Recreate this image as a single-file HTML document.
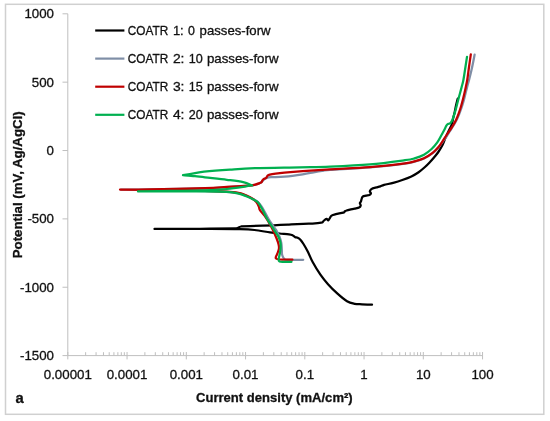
<!DOCTYPE html>
<html><head><meta charset="utf-8"><style>
html,body{margin:0;padding:0;background:#fff;}
svg{display:block;}
</style></head><body>
<svg width="550" height="421" viewBox="0 0 550 421">
<rect x="0" y="0" width="550" height="421" fill="#fff"/>
<rect x="5.5" y="4.3" width="538.3" height="410" fill="none" stroke="#d0d0d0" stroke-width="1.5"/>
<line x1="67.8" y1="13.8" x2="67.8" y2="355.6" stroke="#bfbfbf" stroke-width="1"/>
<line x1="67.8" y1="355.6" x2="482.55" y2="355.6" stroke="#bfbfbf" stroke-width="1"/>
<line x1="62.5" y1="13.80" x2="67.8" y2="13.80" stroke="#bfbfbf" stroke-width="1"/>
<line x1="62.5" y1="82.16" x2="67.8" y2="82.16" stroke="#bfbfbf" stroke-width="1"/>
<line x1="62.5" y1="150.52" x2="67.8" y2="150.52" stroke="#bfbfbf" stroke-width="1"/>
<line x1="62.5" y1="218.88" x2="67.8" y2="218.88" stroke="#bfbfbf" stroke-width="1"/>
<line x1="62.5" y1="287.24" x2="67.8" y2="287.24" stroke="#bfbfbf" stroke-width="1"/>
<line x1="62.5" y1="355.60" x2="67.8" y2="355.60" stroke="#bfbfbf" stroke-width="1"/>
<line x1="67.80" y1="352.00" x2="67.80" y2="359.40" stroke="#bfbfbf" stroke-width="1"/>
<line x1="85.64" y1="352.20" x2="85.64" y2="355.60" stroke="#bfbfbf" stroke-width="1"/>
<line x1="96.07" y1="352.20" x2="96.07" y2="355.60" stroke="#bfbfbf" stroke-width="1"/>
<line x1="103.47" y1="352.20" x2="103.47" y2="355.60" stroke="#bfbfbf" stroke-width="1"/>
<line x1="109.21" y1="352.20" x2="109.21" y2="355.60" stroke="#bfbfbf" stroke-width="1"/>
<line x1="113.91" y1="352.20" x2="113.91" y2="355.60" stroke="#bfbfbf" stroke-width="1"/>
<line x1="117.87" y1="352.20" x2="117.87" y2="355.60" stroke="#bfbfbf" stroke-width="1"/>
<line x1="121.31" y1="352.20" x2="121.31" y2="355.60" stroke="#bfbfbf" stroke-width="1"/>
<line x1="124.34" y1="352.20" x2="124.34" y2="355.60" stroke="#bfbfbf" stroke-width="1"/>
<line x1="127.05" y1="352.00" x2="127.05" y2="359.40" stroke="#bfbfbf" stroke-width="1"/>
<line x1="144.89" y1="352.20" x2="144.89" y2="355.60" stroke="#bfbfbf" stroke-width="1"/>
<line x1="155.32" y1="352.20" x2="155.32" y2="355.60" stroke="#bfbfbf" stroke-width="1"/>
<line x1="162.72" y1="352.20" x2="162.72" y2="355.60" stroke="#bfbfbf" stroke-width="1"/>
<line x1="168.46" y1="352.20" x2="168.46" y2="355.60" stroke="#bfbfbf" stroke-width="1"/>
<line x1="173.16" y1="352.20" x2="173.16" y2="355.60" stroke="#bfbfbf" stroke-width="1"/>
<line x1="177.12" y1="352.20" x2="177.12" y2="355.60" stroke="#bfbfbf" stroke-width="1"/>
<line x1="180.56" y1="352.20" x2="180.56" y2="355.60" stroke="#bfbfbf" stroke-width="1"/>
<line x1="183.59" y1="352.20" x2="183.59" y2="355.60" stroke="#bfbfbf" stroke-width="1"/>
<line x1="186.30" y1="352.00" x2="186.30" y2="359.40" stroke="#bfbfbf" stroke-width="1"/>
<line x1="204.14" y1="352.20" x2="204.14" y2="355.60" stroke="#bfbfbf" stroke-width="1"/>
<line x1="214.57" y1="352.20" x2="214.57" y2="355.60" stroke="#bfbfbf" stroke-width="1"/>
<line x1="221.97" y1="352.20" x2="221.97" y2="355.60" stroke="#bfbfbf" stroke-width="1"/>
<line x1="227.71" y1="352.20" x2="227.71" y2="355.60" stroke="#bfbfbf" stroke-width="1"/>
<line x1="232.41" y1="352.20" x2="232.41" y2="355.60" stroke="#bfbfbf" stroke-width="1"/>
<line x1="236.37" y1="352.20" x2="236.37" y2="355.60" stroke="#bfbfbf" stroke-width="1"/>
<line x1="239.81" y1="352.20" x2="239.81" y2="355.60" stroke="#bfbfbf" stroke-width="1"/>
<line x1="242.84" y1="352.20" x2="242.84" y2="355.60" stroke="#bfbfbf" stroke-width="1"/>
<line x1="245.55" y1="352.00" x2="245.55" y2="359.40" stroke="#bfbfbf" stroke-width="1"/>
<line x1="263.39" y1="352.20" x2="263.39" y2="355.60" stroke="#bfbfbf" stroke-width="1"/>
<line x1="273.82" y1="352.20" x2="273.82" y2="355.60" stroke="#bfbfbf" stroke-width="1"/>
<line x1="281.22" y1="352.20" x2="281.22" y2="355.60" stroke="#bfbfbf" stroke-width="1"/>
<line x1="286.96" y1="352.20" x2="286.96" y2="355.60" stroke="#bfbfbf" stroke-width="1"/>
<line x1="291.66" y1="352.20" x2="291.66" y2="355.60" stroke="#bfbfbf" stroke-width="1"/>
<line x1="295.62" y1="352.20" x2="295.62" y2="355.60" stroke="#bfbfbf" stroke-width="1"/>
<line x1="299.06" y1="352.20" x2="299.06" y2="355.60" stroke="#bfbfbf" stroke-width="1"/>
<line x1="302.09" y1="352.20" x2="302.09" y2="355.60" stroke="#bfbfbf" stroke-width="1"/>
<line x1="304.80" y1="352.00" x2="304.80" y2="359.40" stroke="#bfbfbf" stroke-width="1"/>
<line x1="322.64" y1="352.20" x2="322.64" y2="355.60" stroke="#bfbfbf" stroke-width="1"/>
<line x1="333.07" y1="352.20" x2="333.07" y2="355.60" stroke="#bfbfbf" stroke-width="1"/>
<line x1="340.47" y1="352.20" x2="340.47" y2="355.60" stroke="#bfbfbf" stroke-width="1"/>
<line x1="346.21" y1="352.20" x2="346.21" y2="355.60" stroke="#bfbfbf" stroke-width="1"/>
<line x1="350.91" y1="352.20" x2="350.91" y2="355.60" stroke="#bfbfbf" stroke-width="1"/>
<line x1="354.87" y1="352.20" x2="354.87" y2="355.60" stroke="#bfbfbf" stroke-width="1"/>
<line x1="358.31" y1="352.20" x2="358.31" y2="355.60" stroke="#bfbfbf" stroke-width="1"/>
<line x1="361.34" y1="352.20" x2="361.34" y2="355.60" stroke="#bfbfbf" stroke-width="1"/>
<line x1="364.05" y1="352.00" x2="364.05" y2="359.40" stroke="#bfbfbf" stroke-width="1"/>
<line x1="381.89" y1="352.20" x2="381.89" y2="355.60" stroke="#bfbfbf" stroke-width="1"/>
<line x1="392.32" y1="352.20" x2="392.32" y2="355.60" stroke="#bfbfbf" stroke-width="1"/>
<line x1="399.72" y1="352.20" x2="399.72" y2="355.60" stroke="#bfbfbf" stroke-width="1"/>
<line x1="405.46" y1="352.20" x2="405.46" y2="355.60" stroke="#bfbfbf" stroke-width="1"/>
<line x1="410.16" y1="352.20" x2="410.16" y2="355.60" stroke="#bfbfbf" stroke-width="1"/>
<line x1="414.12" y1="352.20" x2="414.12" y2="355.60" stroke="#bfbfbf" stroke-width="1"/>
<line x1="417.56" y1="352.20" x2="417.56" y2="355.60" stroke="#bfbfbf" stroke-width="1"/>
<line x1="420.59" y1="352.20" x2="420.59" y2="355.60" stroke="#bfbfbf" stroke-width="1"/>
<line x1="423.30" y1="352.00" x2="423.30" y2="359.40" stroke="#bfbfbf" stroke-width="1"/>
<line x1="441.14" y1="352.20" x2="441.14" y2="355.60" stroke="#bfbfbf" stroke-width="1"/>
<line x1="451.57" y1="352.20" x2="451.57" y2="355.60" stroke="#bfbfbf" stroke-width="1"/>
<line x1="458.97" y1="352.20" x2="458.97" y2="355.60" stroke="#bfbfbf" stroke-width="1"/>
<line x1="464.71" y1="352.20" x2="464.71" y2="355.60" stroke="#bfbfbf" stroke-width="1"/>
<line x1="469.41" y1="352.20" x2="469.41" y2="355.60" stroke="#bfbfbf" stroke-width="1"/>
<line x1="473.37" y1="352.20" x2="473.37" y2="355.60" stroke="#bfbfbf" stroke-width="1"/>
<line x1="476.81" y1="352.20" x2="476.81" y2="355.60" stroke="#bfbfbf" stroke-width="1"/>
<line x1="479.84" y1="352.20" x2="479.84" y2="355.60" stroke="#bfbfbf" stroke-width="1"/>
<line x1="482.55" y1="352.00" x2="482.55" y2="359.40" stroke="#bfbfbf" stroke-width="1"/>
<text x="54" y="18.40" text-anchor="end" font-size="13.3" fill="#111" stroke="#111" stroke-width="0.3" font-family="Liberation Sans, sans-serif">1000</text>
<text x="54" y="86.76" text-anchor="end" font-size="13.3" fill="#111" stroke="#111" stroke-width="0.3" font-family="Liberation Sans, sans-serif">500</text>
<text x="54" y="155.12" text-anchor="end" font-size="13.3" fill="#111" stroke="#111" stroke-width="0.3" font-family="Liberation Sans, sans-serif">0</text>
<text x="54" y="223.48" text-anchor="end" font-size="13.3" fill="#111" stroke="#111" stroke-width="0.3" font-family="Liberation Sans, sans-serif">-500</text>
<text x="54" y="291.84" text-anchor="end" font-size="13.3" fill="#111" stroke="#111" stroke-width="0.3" font-family="Liberation Sans, sans-serif">-1000</text>
<text x="54" y="360.20" text-anchor="end" font-size="13.3" fill="#111" stroke="#111" stroke-width="0.3" font-family="Liberation Sans, sans-serif">-1500</text>
<text x="67.80" y="378.9" text-anchor="middle" font-size="13.3" fill="#111" stroke="#111" stroke-width="0.3" font-family="Liberation Sans, sans-serif">0.00001</text>
<text x="127.05" y="378.9" text-anchor="middle" font-size="13.3" fill="#111" stroke="#111" stroke-width="0.3" font-family="Liberation Sans, sans-serif">0.0001</text>
<text x="186.30" y="378.9" text-anchor="middle" font-size="13.3" fill="#111" stroke="#111" stroke-width="0.3" font-family="Liberation Sans, sans-serif">0.001</text>
<text x="245.55" y="378.9" text-anchor="middle" font-size="13.3" fill="#111" stroke="#111" stroke-width="0.3" font-family="Liberation Sans, sans-serif">0.01</text>
<text x="304.80" y="378.9" text-anchor="middle" font-size="13.3" fill="#111" stroke="#111" stroke-width="0.3" font-family="Liberation Sans, sans-serif">0.1</text>
<text x="364.05" y="378.9" text-anchor="middle" font-size="13.3" fill="#111" stroke="#111" stroke-width="0.3" font-family="Liberation Sans, sans-serif">1</text>
<text x="423.30" y="378.9" text-anchor="middle" font-size="13.3" fill="#111" stroke="#111" stroke-width="0.3" font-family="Liberation Sans, sans-serif">10</text>
<text x="482.55" y="378.9" text-anchor="middle" font-size="13.3" fill="#111" stroke="#111" stroke-width="0.3" font-family="Liberation Sans, sans-serif">100</text>
<text x="196" y="401.9" font-size="13.3" font-weight="bold" fill="#111" stroke="#111" stroke-width="0.3" font-family="Liberation Sans, sans-serif" textLength="156.7" lengthAdjust="spacingAndGlyphs">Current density (mA/cm²)</text>
<text transform="translate(21.7,258.3) rotate(-90)" x="0" y="0" font-size="13.3" font-weight="bold" fill="#111" stroke="#111" stroke-width="0.3" font-family="Liberation Sans, sans-serif" textLength="147" lengthAdjust="spacingAndGlyphs">Potential (mV, Ag/AgCl)</text>
<text x="15.6" y="403.1" font-size="14.8" font-weight="bold" fill="#111" stroke="#111" stroke-width="0.3" font-family="Liberation Sans, sans-serif">a</text>
<line x1="95.2" y1="30.50" x2="124.4" y2="30.50" stroke="#000000" stroke-width="2.2"/>
<text y="34.50" font-size="12.6" fill="#111" stroke="#111" stroke-width="0.3" font-family="Liberation Sans, sans-serif"><tspan x="127.8" textLength="40.4" lengthAdjust="spacingAndGlyphs">COATR</tspan> <tspan x="172.9" textLength="10.8" lengthAdjust="spacingAndGlyphs">1:</tspan> <tspan x="187.9" textLength="6.9" lengthAdjust="spacingAndGlyphs">0</tspan> <tspan x="199.6" textLength="71.0" lengthAdjust="spacingAndGlyphs">passes-forw</tspan></text>
<line x1="95.2" y1="58.60" x2="124.4" y2="58.60" stroke="#7f8ea6" stroke-width="2.2"/>
<text y="62.60" font-size="12.6" fill="#111" stroke="#111" stroke-width="0.3" font-family="Liberation Sans, sans-serif"><tspan x="127.8" textLength="40.4" lengthAdjust="spacingAndGlyphs">COATR</tspan> <tspan x="172.9" textLength="11.6" lengthAdjust="spacingAndGlyphs">2:</tspan> <tspan x="188.7" textLength="14.0" lengthAdjust="spacingAndGlyphs">10</tspan> <tspan x="206.9" textLength="71.6" lengthAdjust="spacingAndGlyphs">passes-forw</tspan></text>
<line x1="95.2" y1="86.70" x2="124.4" y2="86.70" stroke="#c00000" stroke-width="2.2"/>
<text y="90.70" font-size="12.6" fill="#111" stroke="#111" stroke-width="0.3" font-family="Liberation Sans, sans-serif"><tspan x="127.8" textLength="40.4" lengthAdjust="spacingAndGlyphs">COATR</tspan> <tspan x="172.9" textLength="11.6" lengthAdjust="spacingAndGlyphs">3:</tspan> <tspan x="188.7" textLength="14.0" lengthAdjust="spacingAndGlyphs">15</tspan> <tspan x="206.9" textLength="71.6" lengthAdjust="spacingAndGlyphs">passes-forw</tspan></text>
<line x1="95.2" y1="114.80" x2="124.4" y2="114.80" stroke="#00b050" stroke-width="2.2"/>
<text y="118.80" font-size="12.6" fill="#111" stroke="#111" stroke-width="0.3" font-family="Liberation Sans, sans-serif"><tspan x="127.8" textLength="40.4" lengthAdjust="spacingAndGlyphs">COATR</tspan> <tspan x="172.9" textLength="11.6" lengthAdjust="spacingAndGlyphs">4:</tspan> <tspan x="188.7" textLength="14.0" lengthAdjust="spacingAndGlyphs">20</tspan> <tspan x="206.9" textLength="71.6" lengthAdjust="spacingAndGlyphs">passes-forw</tspan></text>
<path d="M372.00,304.60 C370.33,304.55 364.90,304.43 362.00,304.30 C359.10,304.17 357.10,304.30 354.60,303.80 C352.10,303.30 349.85,302.98 347.00,301.30 C344.15,299.62 340.67,296.55 337.50,293.70 C334.33,290.85 330.85,287.37 328.00,284.20 C325.15,281.03 322.93,278.35 320.40,274.70 C317.87,271.05 314.87,266.08 312.80,262.30 C310.73,258.52 309.55,255.05 308.00,252.00 C306.45,248.95 304.77,246.05 303.50,244.00 C302.23,241.95 301.38,240.73 300.40,239.70 C299.42,238.67 298.47,238.22 297.60,237.80 C296.73,237.38 296.00,237.60 295.20,237.20 C294.40,236.80 293.83,235.88 292.80,235.40 C291.77,234.92 291.22,234.62 289.00,234.30 C286.78,233.98 282.67,233.82 279.50,233.50 C276.33,233.18 274.17,232.98 270.00,232.40 C265.83,231.82 259.50,230.53 254.50,230.00 C249.50,229.47 247.42,229.38 240.00,229.20 C232.58,229.02 224.25,228.95 210.00,228.90 C195.75,228.85 163.75,228.90 154.50,228.90 C162.08,228.88 186.33,228.88 200.00,228.80 C213.67,228.72 230.42,228.47 236.50,228.40 C236.92,228.20 238.17,227.53 239.00,227.20 C239.83,226.87 241.08,226.53 241.50,226.40 C242.92,226.35 244.62,226.28 250.00,226.10 C255.38,225.92 267.30,225.55 273.80,225.30 C280.30,225.05 284.08,224.85 289.00,224.60 C293.92,224.35 298.97,224.02 303.30,223.80 C307.63,223.58 311.80,223.53 315.00,223.30 C318.20,223.07 321.25,222.55 322.50,222.40 C322.85,221.83 323.92,220.57 324.60,220.00 C325.28,219.43 325.98,218.75 326.60,218.80 C327.22,218.85 327.73,220.45 328.30,220.30 C328.87,220.15 329.45,218.68 330.00,217.90 C330.55,217.12 330.63,216.22 331.60,215.60 C332.57,214.98 333.85,214.70 335.80,214.20 C337.75,213.70 341.78,213.08 343.30,212.60 C344.82,212.12 344.35,211.65 344.90,211.30 C345.45,210.95 345.77,210.78 346.60,210.50 C347.43,210.22 348.57,209.92 349.90,209.60 C351.23,209.28 353.07,208.95 354.60,208.60 C356.13,208.25 358.08,208.02 359.10,207.50 C360.12,206.98 360.57,206.22 360.70,205.50 C360.83,204.78 359.85,203.90 359.90,203.20 C359.95,202.50 360.68,202.12 361.00,201.30 C361.32,200.48 361.48,199.10 361.80,198.30 C362.12,197.50 362.20,196.93 362.90,196.50 C363.60,196.07 364.92,195.97 366.00,195.70 C367.08,195.43 368.58,195.30 369.40,194.90 C370.22,194.50 370.83,193.88 370.90,193.30 C370.97,192.72 369.80,192.03 369.80,191.40 C369.80,190.77 370.40,190.02 370.90,189.50 C371.40,188.98 372.48,188.50 372.80,188.30 C373.43,188.15 375.33,187.72 376.60,187.40 C377.87,187.08 379.15,186.82 380.40,186.40 C381.65,185.98 381.97,185.50 384.10,184.90 C386.23,184.30 390.17,183.62 393.20,182.80 C396.23,181.98 399.27,181.07 402.30,180.00 C405.33,178.93 408.68,177.70 411.40,176.40 C414.12,175.10 416.33,173.77 418.60,172.20 C420.87,170.63 423.10,168.70 425.00,167.00 C426.90,165.30 428.50,163.58 430.00,162.00 C431.50,160.42 432.67,159.08 434.00,157.50 C435.33,155.92 436.58,154.58 438.00,152.50 C439.42,150.42 441.20,147.58 442.50,145.00 C443.80,142.42 444.65,139.58 445.80,137.00 C446.95,134.42 448.38,131.67 449.40,129.50 C450.42,127.33 451.27,125.92 451.90,124.00 C452.53,122.08 452.77,119.83 453.20,118.00 C453.63,116.17 454.10,114.75 454.50,113.00 C454.90,111.25 455.25,109.17 455.60,107.50 C455.95,105.83 456.25,104.47 456.60,103.00 C456.95,101.53 457.52,99.42 457.70,98.70" fill="none" stroke="#000000" stroke-width="2.25" stroke-linejoin="round" stroke-linecap="round"/>
<path d="M303.20,259.80 C301.00,259.80 293.03,259.85 290.00,259.80 C286.97,259.75 286.17,259.97 285.00,259.50 C283.83,259.03 283.50,257.88 283.00,257.00 C282.50,256.12 282.20,255.53 282.00,254.20 C281.80,252.87 281.92,250.87 281.80,249.00 C281.68,247.13 281.67,245.00 281.30,243.00 C280.93,241.00 280.32,238.92 279.60,237.00 C278.88,235.08 278.02,233.25 277.00,231.50 C275.98,229.75 274.90,228.58 273.50,226.50 C272.10,224.42 270.23,221.75 268.60,219.00 C266.97,216.25 265.00,212.25 263.70,210.00 C262.40,207.75 261.75,206.83 260.80,205.50 C259.85,204.17 259.22,203.03 258.00,202.00 C256.78,200.97 255.33,200.27 253.50,199.30 C251.67,198.33 249.25,197.15 247.00,196.20 C244.75,195.25 242.83,194.28 240.00,193.60 C237.17,192.92 235.83,192.52 230.00,192.10 C224.17,191.68 218.33,191.47 205.00,191.10 C191.67,190.73 164.00,190.15 150.00,189.90 C136.00,189.65 125.83,189.65 121.00,189.60 C125.83,189.57 136.00,189.62 150.00,189.40 C164.00,189.18 192.20,188.68 205.00,188.30 C217.80,187.92 218.98,187.57 226.80,187.10 C234.62,186.63 247.72,185.77 251.90,185.50 C252.75,185.30 255.40,184.88 257.00,184.30 C258.60,183.72 260.33,182.78 261.50,182.00 C262.67,181.22 263.15,180.27 264.00,179.60 C264.85,178.93 265.43,178.40 266.60,178.00 C267.77,177.60 268.02,177.43 271.00,177.20 C273.98,176.97 279.22,177.08 284.50,176.60 C289.78,176.12 297.85,175.02 302.70,174.30 C307.55,173.58 310.38,172.87 313.60,172.30 C316.82,171.73 319.27,171.30 322.00,170.90 C324.73,170.50 322.00,170.48 330.00,169.90 C338.00,169.32 357.50,168.45 370.00,167.40 C382.50,166.35 397.58,164.55 405.00,163.60 C412.42,162.65 411.33,162.53 414.50,161.70 C417.67,160.87 420.98,160.02 424.00,158.60 C427.02,157.18 430.22,155.00 432.60,153.20 C434.98,151.40 436.65,149.67 438.30,147.80 C439.95,145.93 441.13,143.88 442.50,142.00 C443.87,140.12 445.25,138.33 446.50,136.50 C447.75,134.67 448.83,132.83 450.00,131.00 C451.17,129.17 452.40,127.33 453.50,125.50 C454.60,123.67 455.62,122.00 456.60,120.00 C457.58,118.00 458.53,115.67 459.40,113.50 C460.27,111.33 461.05,109.25 461.80,107.00 C462.55,104.75 463.27,102.33 463.90,100.00 C464.53,97.67 465.02,95.33 465.60,93.00 C466.18,90.67 466.78,88.33 467.40,86.00 C468.02,83.67 468.62,81.67 469.30,79.00 C469.98,76.33 470.85,72.83 471.50,70.00 C472.15,67.17 472.68,64.57 473.20,62.00 C473.72,59.43 474.37,55.83 474.60,54.60" fill="none" stroke="#7f8ea6" stroke-width="2.25" stroke-linejoin="round" stroke-linecap="round"/>
<path d="M292.40,259.60 C291.17,259.60 287.15,259.62 285.00,259.60 C282.85,259.58 281.00,259.68 279.50,259.50 C278.00,259.32 276.58,259.00 276.00,258.50 C275.42,258.00 275.83,257.17 276.00,256.50 C276.17,255.83 276.62,255.42 277.00,254.50 C277.38,253.58 277.97,252.08 278.30,251.00 C278.63,249.92 278.95,249.08 279.00,248.00 C279.05,246.92 278.90,245.83 278.60,244.50 C278.30,243.17 277.85,241.75 277.20,240.00 C276.55,238.25 275.57,235.95 274.70,234.00 C273.83,232.05 273.12,230.47 272.00,228.30 C270.88,226.13 269.25,223.13 268.00,221.00 C266.75,218.87 265.67,217.08 264.50,215.50 C263.33,213.92 261.83,212.53 261.00,211.50 C260.17,210.47 259.87,210.13 259.50,209.30 C259.13,208.47 259.30,207.67 258.80,206.50 C258.30,205.33 257.55,203.58 256.50,202.30 C255.45,201.02 254.17,199.92 252.50,198.80 C250.83,197.68 248.43,196.52 246.50,195.60 C244.57,194.68 243.65,193.93 240.90,193.30 C238.15,192.67 235.98,192.20 230.00,191.80 C224.02,191.40 218.33,191.22 205.00,190.90 C191.67,190.58 164.17,190.12 150.00,189.90 C135.83,189.68 125.00,189.65 120.00,189.60 C125.00,189.57 135.83,189.63 150.00,189.40 C164.17,189.17 192.20,188.62 205.00,188.20 C217.80,187.78 218.98,187.38 226.80,186.90 C234.62,186.42 247.72,185.57 251.90,185.30 C252.47,185.18 254.12,184.92 255.30,184.60 C256.48,184.28 257.95,183.80 259.00,183.40 C260.05,183.00 261.17,182.40 261.60,182.20 C261.77,181.87 262.27,180.73 262.60,180.20 C262.93,179.67 263.43,179.20 263.60,179.00 C263.92,178.88 265.00,178.58 265.50,178.30 C266.00,178.02 266.42,177.47 266.60,177.30 C266.77,177.02 267.07,176.05 267.60,175.60 C268.13,175.15 268.47,174.93 269.80,174.60 C271.13,174.27 273.15,173.93 275.60,173.60 C278.05,173.27 279.98,173.02 284.50,172.60 C289.02,172.18 295.12,171.65 302.70,171.10 C310.28,170.55 318.78,169.97 330.00,169.30 C341.22,168.63 357.50,168.10 370.00,167.10 C382.50,166.10 397.58,164.27 405.00,163.30 C412.42,162.33 411.33,162.15 414.50,161.30 C417.67,160.45 420.98,159.62 424.00,158.20 C427.02,156.78 430.22,154.62 432.60,152.80 C434.98,150.98 436.70,149.13 438.30,147.30 C439.90,145.47 440.92,143.68 442.20,141.80 C443.48,139.92 444.78,137.83 446.00,136.00 C447.22,134.17 448.33,132.55 449.50,130.80 C450.67,129.05 451.92,127.30 453.00,125.50 C454.08,123.70 455.05,122.03 456.00,120.00 C456.95,117.97 457.87,115.55 458.70,113.30 C459.53,111.05 460.30,108.80 461.00,106.50 C461.70,104.20 462.30,101.83 462.90,99.50 C463.50,97.17 464.08,94.75 464.60,92.50 C465.12,90.25 465.55,88.17 466.00,86.00 C466.45,83.83 466.80,82.67 467.30,79.50 C467.80,76.33 468.42,71.18 469.00,67.00 C469.58,62.82 470.50,56.50 470.80,54.40" fill="none" stroke="#c00000" stroke-width="2.25" stroke-linejoin="round" stroke-linecap="round"/>
<path d="M291.50,261.80 C290.25,261.80 286.00,261.85 284.00,261.80 C282.00,261.75 280.40,261.88 279.50,261.50 C278.60,261.12 278.65,260.33 278.60,259.50 C278.55,258.67 278.97,257.67 279.20,256.50 C279.43,255.33 279.77,253.92 280.00,252.50 C280.23,251.08 280.52,249.58 280.60,248.00 C280.68,246.42 280.80,244.75 280.50,243.00 C280.20,241.25 279.50,239.12 278.80,237.50 C278.10,235.88 277.13,234.63 276.30,233.30 C275.47,231.97 274.55,230.65 273.80,229.50 C273.05,228.35 272.93,228.18 271.80,226.40 C270.67,224.62 268.58,221.65 267.00,218.80 C265.42,215.95 263.47,211.55 262.30,209.30 C261.13,207.05 260.80,206.53 260.00,205.30 C259.20,204.07 258.67,202.92 257.50,201.90 C256.33,200.88 254.85,200.15 253.00,199.20 C251.15,198.25 248.95,197.17 246.40,196.20 C243.85,195.23 240.97,194.12 237.70,193.40 C234.43,192.68 232.25,192.23 226.80,191.90 C221.35,191.57 214.47,191.48 205.00,191.40 C195.53,191.32 181.17,191.40 170.00,191.40 C158.83,191.40 143.33,191.40 138.00,191.40 C143.33,191.32 158.83,191.08 170.00,190.90 C181.17,190.72 195.53,190.62 205.00,190.30 C214.47,189.98 220.13,189.62 226.80,189.00 C233.47,188.38 240.80,187.22 245.00,186.60 C249.20,185.98 250.83,185.52 252.00,185.30 C250.53,184.77 247.40,183.02 243.20,182.10 C239.00,181.18 233.17,180.58 226.80,179.80 C220.43,179.02 210.30,178.00 205.00,177.40 C199.70,176.80 198.67,176.58 195.00,176.20 C191.33,175.82 185.00,175.28 183.00,175.10 C185.00,174.78 191.48,173.77 195.00,173.20 C198.52,172.63 198.27,172.30 204.10,171.70 C209.93,171.10 221.52,170.18 230.00,169.60 C238.48,169.02 243.33,168.58 255.00,168.20 C266.67,167.82 287.50,167.57 300.00,167.30 C312.50,167.03 318.33,167.08 330.00,166.60 C341.67,166.12 357.50,165.47 370.00,164.40 C382.50,163.33 397.58,161.20 405.00,160.20 C412.42,159.20 411.33,159.32 414.50,158.40 C417.67,157.48 421.15,156.27 424.00,154.70 C426.85,153.13 429.38,151.05 431.60,149.00 C433.82,146.95 435.72,144.60 437.30,142.40 C438.88,140.20 439.97,137.83 441.10,135.80 C442.23,133.77 443.22,131.88 444.10,130.20 C444.98,128.52 445.78,126.73 446.40,125.70 C447.02,124.67 447.57,124.28 447.80,124.00 C448.10,123.92 449.10,123.73 449.60,123.50 C450.10,123.27 450.60,122.75 450.80,122.60 C451.10,122.05 451.90,121.05 452.60,119.30 C453.30,117.55 454.28,114.48 455.00,112.10 C455.72,109.72 456.35,107.10 456.90,105.00 C457.45,102.90 457.82,101.33 458.30,99.50 C458.78,97.67 459.25,96.05 459.80,94.00 C460.35,91.95 461.00,89.53 461.60,87.20 C462.20,84.87 462.73,83.53 463.40,80.00 C464.07,76.47 465.00,69.87 465.60,66.00 C466.20,62.13 466.77,58.33 467.00,56.80" fill="none" stroke="#00b050" stroke-width="2.25" stroke-linejoin="round" stroke-linecap="round"/>
</svg>
</body></html>
